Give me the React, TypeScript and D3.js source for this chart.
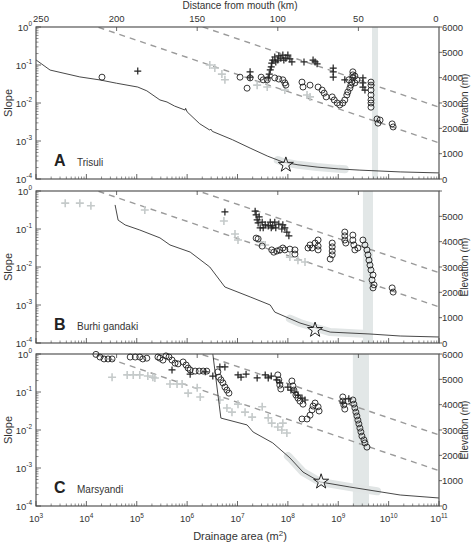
import React from "react";
import * as d3 from "d3";

// ---- layout ----
const W = 474;
const H = 544;
const LEFT = 36;
const RIGHT = 439;
const PANEL_H = 152;
const PANEL_TOPS = [27, 191, 354];
const FONT = "'Liberation Sans', Arial, Helvetica, sans-serif";

// ---- axes ----
const areaExponents = [3, 4, 5, 6, 7, 8, 9, 10, 11];
const slopeExponents = [0, -1, -2, -3, -4];
const elevationTicks = [0, 1000, 2000, 3000, 4000, 5000, 6000];
const distanceTicks = [250, 200, 150, 100, 50, 0];

// ---- data: [log10 drainage area (m^2), log10 slope] ----
const trisuliCircles: number[][] = [
  [4.31, -1.32], [7.05, -1.32], [7.19, -1.61], [7.25, -1.34], [7.47, -1.32], [7.51, -1.39],
  [7.59, -1.39], [7.74, -1.34], [7.82, -1.37], [7.9, -1.39], [7.94, -1.47], [7.96, -1.53],
  [8.28, -1.45], [8.3, -1.58], [8.44, -1.53], [8.6, -1.58], [8.68, -1.66], [8.72, -1.74],
  [8.76, -1.84], [8.88, -1.84], [8.92, -1.92], [8.98, -2.0], [9.03, -2.05], [9.09, -2.0],
  [9.13, -1.92], [9.17, -1.79], [9.19, -1.71], [9.23, -1.61], [9.25, -1.53], [9.27, -1.45],
  [9.29, -1.34], [9.29, -1.26], [9.29, -1.18], [9.33, -1.29], [9.37, -1.39], [9.33, -1.47],
  [9.21, -1.39], [9.65, -1.45], [9.65, -1.53], [9.65, -1.66], [9.65, -1.79], [9.65, -1.92],
  [9.65, -2.0], [9.65, -2.11], [9.77, -2.42], [9.79, -2.53], [9.83, -2.45], [10.07, -2.55],
  [10.09, -2.63],
];
const trisuliCrosses: number[][] = [
  [5.02, -1.16], [7.25, -1.18], [7.25, -1.32], [7.61, -1.34], [7.65, -1.13], [7.67, -1.05],
  [7.68, -0.95], [7.7, -0.87], [7.74, -0.79], [7.8, -0.87], [7.86, -0.82], [7.9, -0.74],
  [7.96, -0.82], [8.0, -0.74], [8.04, -0.84], [8.08, -0.92], [8.32, -0.92], [8.5, -0.87],
  [8.54, -0.92], [8.58, -0.97], [8.9, -1.08], [8.9, -1.18], [8.9, -1.32], [9.13, -1.39],
  [9.49, -1.34], [9.49, -1.47], [9.49, -1.58], [9.53, -1.66], [7.76, -0.92], [7.92, -0.87],
  [7.82, -0.76], [7.63, -1.24],
];
const trisuliGrayCrosses: number[][] = [
  [6.45, -1.0], [6.55, -1.08], [6.69, -1.24], [6.75, -1.39], [7.39, -1.53], [7.59, -1.58],
  [7.94, -1.66], [8.38, -1.79], [8.44, -1.84],
];

const burhiCircles: number[][] = [
  [7.37, -1.24], [7.41, -1.26], [7.49, -1.45], [7.68, -1.55], [7.72, -1.61], [7.78, -1.58],
  [7.84, -1.55], [7.9, -1.5], [7.94, -1.55], [8.04, -1.53], [8.14, -1.55], [8.14, -1.66],
  [8.4, -1.5], [8.44, -1.42], [8.48, -1.5], [8.54, -1.37], [8.6, -1.29], [8.6, -1.45],
  [8.6, -1.55], [8.88, -1.37], [8.88, -1.47], [8.88, -1.58], [8.88, -1.68], [8.84, -1.79],
  [9.13, -1.08], [9.13, -1.18], [9.13, -1.29], [9.15, -1.37], [9.29, -1.16], [9.29, -1.29],
  [9.31, -1.42], [9.33, -1.55], [9.39, -1.5], [9.49, -1.29], [9.53, -1.42], [9.57, -1.55],
  [9.59, -1.68], [9.61, -1.82], [9.63, -1.95], [9.65, -2.08], [9.69, -2.21], [9.67, -2.34],
  [9.71, -2.47], [9.69, -2.55], [10.07, -2.55], [10.09, -2.66],
];
const burhiCrosses: number[][] = [
  [6.75, -0.55], [7.35, -0.53], [7.37, -0.63], [7.39, -0.76], [7.41, -0.84], [7.45, -0.97],
  [7.49, -0.82], [7.55, -0.89], [7.61, -0.92], [7.65, -0.82], [7.7, -0.92], [7.76, -0.97],
  [7.82, -0.87], [7.88, -1.0], [7.94, -0.97], [7.98, -1.08], [8.02, -1.18], [7.43, -0.68],
  [7.51, -0.97], [7.67, -0.97], [7.74, -0.82], [7.9, -0.89],
];
const burhiGrayCrosses: number[][] = [
  [3.58, -0.32], [3.87, -0.32], [4.09, -0.39], [5.16, -0.5], [6.73, -0.79], [6.95, -1.13],
  [7.01, -1.29], [7.45, -1.34], [7.55, -1.42], [8.04, -1.74], [8.2, -1.82], [8.34, -1.87],
];

const marsyandiCircles: number[][] = [
  [4.19, -0.01], [4.27, -0.08], [4.35, -0.13], [4.43, -0.13], [4.51, -0.13], [4.87, -0.08],
  [4.97, -0.08], [5.06, -0.08], [5.12, -0.13], [5.2, -0.11], [5.42, -0.08], [5.46, -0.11],
  [5.52, -0.16], [5.58, -0.05], [5.64, -0.08], [5.7, -0.16], [5.76, -0.24], [5.82, -0.26],
  [5.92, -0.21], [5.98, -0.29], [6.02, -0.37], [6.06, -0.42], [6.16, -0.45], [6.24, -0.45],
  [6.32, -0.45], [6.39, -0.45], [6.61, -0.47], [6.63, -0.61], [6.67, -0.68], [6.71, -0.76],
  [6.75, -0.87], [6.79, -0.95], [6.83, -1.03], [7.8, -0.55], [7.82, -0.68], [7.84, -0.82],
  [7.86, -0.92], [8.08, -0.71], [8.1, -0.84], [8.12, -0.95], [8.16, -1.08], [8.2, -1.16],
  [8.24, -1.24], [8.3, -1.32], [8.28, -1.71], [8.38, -1.71], [8.44, -1.61], [8.48, -1.47],
  [8.5, -1.37], [8.54, -1.29], [8.6, -1.39], [8.62, -1.5], [9.09, -1.13], [9.09, -1.24],
  [9.11, -1.34], [9.13, -1.45], [9.19, -1.24], [9.29, -1.21], [9.31, -1.32], [9.33, -1.42],
  [9.35, -1.53], [9.37, -1.63], [9.39, -1.74], [9.41, -1.84], [9.43, -1.95], [9.45, -2.05],
  [9.47, -2.16], [9.51, -2.26], [9.53, -2.34], [9.57, -2.45],
];
const marsyandiCrosses: number[][] = [
  [5.7, -0.42], [6.06, -0.53], [6.36, -0.47], [6.51, -0.58], [6.65, -0.34], [6.75, -0.34],
  [7.01, -0.55], [7.07, -0.61], [7.17, -0.53], [7.39, -0.63], [7.55, -0.55], [7.61, -0.63],
  [7.67, -0.58], [7.78, -0.68], [7.84, -0.76], [8.0, -0.87], [8.06, -0.95], [8.14, -1.0],
  [8.2, -1.08], [8.28, -1.16], [8.34, -1.21], [9.09, -1.29], [9.21, -1.18],
];
const marsyandiGrayCrosses: number[][] = [
  [4.51, -0.61], [4.81, -0.55], [4.93, -0.55], [5.06, -0.55], [5.22, -0.58], [5.32, -0.61],
  [5.36, -0.63], [5.66, -0.79], [5.8, -0.79], [5.9, -0.79], [6.02, -1.03], [6.2, -0.89],
  [6.26, -1.13], [6.65, -1.21], [6.79, -1.42], [6.89, -1.53], [7.01, -1.32], [7.15, -1.53],
  [7.29, -1.66], [7.49, -1.39], [7.61, -1.68], [7.68, -1.82], [7.8, -1.92], [7.9, -1.82],
  [7.98, -2.08], [7.88, -2.0],
];

// ---- river long profiles: [log10 drainage area, elevation (m)] ----
const trisuliProfile: number[][] = [
  [3.0, 4700], [3.28, 4300], [3.87, 4030], [4.27, 3910], [4.6, 3780], [5.02, 3630], [5.2, 3480],
  [5.46, 3120], [5.6, 3040], [5.75, 2880], [5.96, 2720], [5.97, 2790], [6.0, 2650], [6.25, 2180],
  [6.45, 1930], [6.47, 1970], [6.5, 1880], [6.9, 1550], [7.25, 1220], [7.6, 900], [7.9, 670],
  [8.2, 560], [8.58, 470], [9.0, 400], [9.43, 350], [10.23, 280], [11.0, 240],
];
const burhiProfile: number[][] = [
  [4.57, 5450], [4.63, 4850], [4.77, 4660], [5.06, 4460], [5.46, 4150], [5.66, 3870],
  [6.06, 3590], [6.45, 3000], [6.75, 2210], [7.25, 1820], [7.65, 1500], [7.74, 1220],
  [8.24, 790], [8.84, 430], [9.63, 355], [10.23, 276], [11.0, 237],
];
const marsyandiProfile: number[][] = [
  [6.51, 6000], [6.67, 3470], [7.19, 3200], [7.31, 2920], [7.7, 2490], [8.04, 1900],
  [8.3, 1340], [8.64, 950], [9.23, 750], [10.23, 434], [11.0, 316],
];

// knickzone star [log10 area, elevation], shaded reach [from, to] and gray band [from, to]
const knickStars: number[][] = [[7.96, 600], [8.54, 555], [8.66, 1000]];
const shadedReaches: number[][] = [[7.8, 9.13], [8.04, 9.49], [8.0, 9.77]];
const bands: number[][] = [[9.67, 9.79], [9.49, 9.69], [9.29, 9.61]];
// reference lines: log10 ks for S = ks * A^-theta
const refTheta = 0.45;
const refLogKs: number[][] = [[2.84, 1.9], [2.8, 1.9], [2.82, 1.88]];

const panelLetters = ["A", "B", "C"];
const panelNames = ["Trisuli", "Burhi gandaki", "Marsyandi"];
const circleSets = [trisuliCircles, burhiCircles, marsyandiCircles];
const crossSets = [trisuliCrosses, burhiCrosses, marsyandiCrosses];
const grayCrossSets = [trisuliGrayCrosses, burhiGrayCrosses, marsyandiGrayCrosses];
const profiles = [trisuliProfile, burhiProfile, marsyandiProfile];

const p10 = (v: number) => Math.pow(10, v);

const xArea = d3.scaleLog().domain([1e3, 1e11]).range([LEFT, RIGHT]);
const xDist = d3.scaleLinear().domain([250, 0]).range([LEFT, RIGHT]);

const minorArea: number[] = [];
for (let e = 3; e < 11; e++) for (let k = 2; k <= 9; k++) minorArea.push(k * p10(e));
const minorSlope: number[] = [];
for (let e = -4; e < 0; e++) for (let k = 2; k <= 9; k++) minorSlope.push(k * p10(e));

const starPath = d3.symbol().type(d3.symbolStar).size(70)() as string;
const crossPath = (s: number) => `M${-s},0H${s}M0,${-s}V${s}`;

function Pow({ e, size }: { e: number; size: number }) {
  return (
    <>
      10
      <tspan dy={-size * 0.45} fontSize={size * 0.68}>
        {e}
      </tspan>
    </>
  );
}

function Panel({ i }: { i: number }) {
  const top = PANEL_TOPS[i];
  const bottom = top + PANEL_H;
  const yS = d3.scaleLog().domain([1e-4, 1]).range([bottom, top]);
  const yE = d3.scaleLinear().domain([0, 6000]).range([bottom, top]);
  const clipId = `clip-${i}`;

  const profileLine = d3
    .line<number[]>()
    .x((d) => xArea(p10(d[0])))
    .y((d) => yE(d[1]))
    .curve(d3.curveLinear);

  const prof = profiles[i];
  const [r0, r1] = shadedReaches[i];
  const interp = (la: number) => {
    for (let k = 0; k < prof.length - 1; k++) {
      const a = prof[k], b = prof[k + 1];
      if (la >= a[0] && la <= b[0]) {
        const t = (la - a[0]) / (b[0] - a[0] || 1);
        return a[1] + t * (b[1] - a[1]);
      }
    }
    return prof[prof.length - 1][1];
  };
  const reach = [[r0, interp(r0)], ...prof.filter((d) => d[0] > r0 && d[0] < r1), [r1, interp(r1)]];

  const refLine = (lk: number) => {
    const a0 = 3, a1 = 11;
    return `M${xArea(p10(a0))},${yS(p10(lk - refTheta * a0))}L${xArea(p10(a1))},${yS(p10(lk - refTheta * a1))}`;
  };

  const elevLabels = i === 1 ? elevationTicks.filter((t) => t < 6000) : elevationTicks;

  return (
    <g>
      <defs>
        <clipPath id={clipId}>
          <rect x={LEFT} y={top} width={RIGHT - LEFT} height={PANEL_H} />
        </clipPath>
      </defs>
      <g clipPath={`url(#${clipId})`}>
        <rect
          x={xArea(p10(bands[i][0]))}
          y={top}
          width={xArea(p10(bands[i][1])) - xArea(p10(bands[i][0]))}
          height={PANEL_H}
          fill="#e2e7e7"
        />
        <path
          d={profileLine(reach) as string}
          fill="none"
          stroke="#e1e5e5"
          strokeWidth={8}
          strokeLinecap="round"
          strokeLinejoin="round"
        />
        {refLogKs[i].map((lk, k) => (
          <path key={k} d={refLine(lk)} stroke="#9a9a9a" strokeWidth={1.4} strokeDasharray="6,5" fill="none" />
        ))}
        {grayCrossSets[i].map((d, k) => (
          <path
            key={`g${k}`}
            transform={`translate(${xArea(p10(d[0]))},${yS(p10(d[1]))})`}
            d={crossPath(4)}
            stroke="#c5caca"
            strokeWidth={1.6}
          />
        ))}
        <path d={profileLine(prof) as string} fill="none" stroke="#333" strokeWidth={0.9} />
      </g>

      {/* frame */}
      <rect x={LEFT} y={top} width={RIGHT - LEFT} height={PANEL_H} fill="none" stroke="#555" strokeWidth={1.2} />

      {crossSets[i].map((d, k) => (
        <path
          key={`c${k}`}
          transform={`translate(${xArea(p10(d[0]))},${yS(p10(d[1]))})`}
          d={crossPath(3.5)}
          stroke="#222"
          strokeWidth={1.2}
        />
      ))}
      {circleSets[i].map((d, k) => (
        <circle
          key={`o${k}`}
          cx={xArea(p10(d[0]))}
          cy={yS(p10(d[1]))}
          r={3}
          fill="none"
          stroke="#222"
          strokeWidth={0.9}
        />
      ))}
      <path
        transform={`translate(${xArea(p10(knickStars[i][0]))},${yE(knickStars[i][1]) + 1})`}
        d={starPath}
        fill="white"
        fillOpacity={0.6}
        stroke="#222"
        strokeWidth={1}
      />

      {/* bottom area ticks (inward) */}
      {areaExponents.map((e) => (
        <line key={`ba${e}`} x1={xArea(p10(e))} x2={xArea(p10(e))} y1={bottom} y2={bottom - 5} stroke="#444" strokeWidth={0.8} />
      ))}
      {minorArea.map((v, k) => (
        <line key={`bm${k}`} x1={xArea(v)} x2={xArea(v)} y1={bottom} y2={bottom - 2.5} stroke="#444" strokeWidth={0.6} />
      ))}

      {/* top distance ticks (inward) */}
      {distanceTicks.slice(1, -1).map((t) => (
        <line key={`td${t}`} x1={xDist(t)} x2={xDist(t)} y1={top} y2={top + 4} stroke="#444" strokeWidth={0.8} />
      ))}

      {/* left slope ticks */}
      {slopeExponents.map((e) => (
        <line key={`ls${e}`} x1={LEFT} x2={LEFT + 5} y1={yS(p10(e))} y2={yS(p10(e))} stroke="#444" strokeWidth={0.8} />
      ))}
      {minorSlope.map((v, k) => (
        <line key={`lm${k}`} x1={LEFT} x2={LEFT + 2.5} y1={yS(v)} y2={yS(v)} stroke="#444" strokeWidth={0.6} />
      ))}
      {slopeExponents.map((e) => (
        <text key={`lt${e}`} x={LEFT - 4} y={yS(p10(e)) + 3.5} textAnchor="end" fontSize={9.5} fill="#333">
          <Pow e={e} size={9.5} />
        </text>
      ))}

      {/* right elevation axis */}
      {elevationTicks.map((t) => (
        <line key={`re${t}`} x1={RIGHT} x2={RIGHT + 3} y1={yE(t)} y2={yE(t)} stroke="#444" strokeWidth={0.8} />
      ))}
      {elevLabels.map((t) => (
        <text key={`rl${t}`} x={RIGHT + 3} y={yE(t) + 3.5} fontSize={9.5} fill="#333">
          {t}
        </text>
      ))}

      {/* axis titles */}
      <text
        transform={`translate(${12},${top + PANEL_H / 2}) rotate(-90)`}
        textAnchor="middle"
        fontSize={11}
        fill="#333"
      >
        Slope
      </text>
      <text
        transform={`translate(${468},${top + PANEL_H / 2}) rotate(-90)`}
        textAnchor="middle"
        fontSize={10}
        fill="#333"
      >
        Elevation (m)
      </text>

      {/* panel label */}
      <text x={54} y={bottom - 13} fontSize={16} fontWeight="bold" fill="#222">
        {panelLetters[i]}
      </text>
      <text x={77} y={bottom - 13.5} fontSize={10} fill="#333">
        {panelNames[i]}
      </text>
    </g>
  );
}

export default function App() {
  const lastBottom = PANEL_TOPS[2] + PANEL_H;
  // end labels of the distance axis sit slightly inward of the frame corners
  const distLabelShift = (t: number) => (t === 250 ? 5 : t === 0 ? -3 : 0);
  return (
    <svg
      width={W}
      height={H}
      style={{ display: "block", position: "absolute", left: 0, top: 0, fontFamily: FONT }}
      fontFamily={FONT}
    >
      <rect width={W} height={H} fill="white" />
      <text x={240} y={9} textAnchor="middle" fontSize={10} fill="#333">
        Distance from mouth (km)
      </text>
      {distanceTicks.map((t) => (
        <text
          key={`dl${t}`}
          x={xDist(t) + distLabelShift(t)}
          y={22}
          textAnchor="middle"
          fontSize={9.5}
          fill="#333"
        >
          {t}
        </text>
      ))}
      {[0, 1, 2].map((i) => (
        <Panel key={i} i={i} />
      ))}
      {areaExponents.map((e) => (
        <text key={`bl${e}`} x={xArea(p10(e))} y={lastBottom + 16} textAnchor="middle" fontSize={9.5} fill="#333">
          <Pow e={e} size={9.5} />
        </text>
      ))}
      <text x={240} y={lastBottom + 34} textAnchor="middle" fontSize={11} fill="#333">
        Drainage area (m
        <tspan dy={-4} fontSize={8}>
          2
        </tspan>
        <tspan dy={4}>)</tspan>
      </text>
    </svg>
  );
}
